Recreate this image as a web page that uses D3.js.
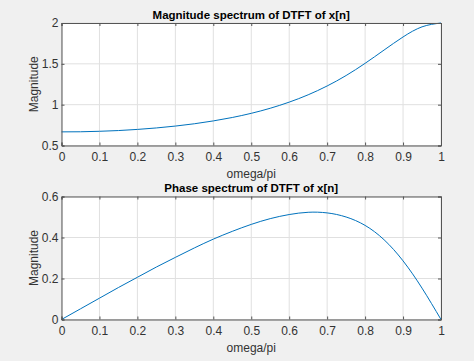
<!DOCTYPE html>
<html>
<head>
<meta charset="utf-8">
<script src="https://cdn.jsdelivr.net/npm/d3@7"></script>
<style>
  body { margin: 0; background: #f0f0f0; }
  svg { display: block; font-family: "Liberation Sans", Arial, sans-serif; }
</style>
</head>
<body>
<script>
// omega/pi sample points
const omega = [0, 0.05, 0.1, 0.15, 0.2, 0.25, 0.3, 0.35, 0.4, 0.45, 0.5,
  0.55, 0.6, 0.65, 0.7, 0.75, 0.8, 0.85, 0.9, 0.95, 1]
const magnitude = [0.667, 0.668, 0.674, 0.683, 0.697, 0.715, 0.738, 0.766, 0.801, 0.843, 0.894,
  0.956, 1.031, 1.121, 1.229, 1.357, 1.506, 1.669, 1.829, 1.953, 2.0]
const phase = [0, 0.052, 0.104, 0.156, 0.206, 0.256, 0.303, 0.349, 0.392, 0.430, 0.464,
  0.492, 0.512, 0.523, 0.520, 0.500, 0.459, 0.389, 0.286, 0.153, 0]

const xTicks = [0, 0.1, 0.2, 0.3, 0.4, 0.5, 0.6, 0.7, 0.8, 0.9, 1]
const magTicks = [0.5, 1, 1.5, 2]
const phaseTicks = [0, 0.2, 0.4, 0.6]

const W = 474, H = 361
const LINE = '#0072BD'
const AXIS = '#555555'
const GRID = '#e0e0e0'
const FONT = '"Liberation Sans", Arial, sans-serif'

const svg = d3.select('body').append('svg')
  .attr('width', W).attr('height', H)

svg.append('rect').attr('width', W).attr('height', H).attr('fill', '#f0f0f0')

function drawPanel(cfg) {
  const x = d3.scaleLinear().domain([0, 1]).range([cfg.left, cfg.right])
  const y = d3.scaleLinear().domain(cfg.yDomain).range([cfg.bottom, cfg.top])
  const g = svg.append('g')

  g.append('rect')
    .attr('x', cfg.left).attr('y', cfg.top)
    .attr('width', cfg.right - cfg.left).attr('height', cfg.bottom - cfg.top)
    .attr('fill', '#fff')

  // grid
  g.selectAll('.gx').data(xTicks).enter().append('line')
    .attr('x1', d => x(d)).attr('x2', d => x(d))
    .attr('y1', cfg.top).attr('y2', cfg.bottom)
    .attr('stroke', GRID).attr('stroke-width', 1)
  g.selectAll('.gy').data(cfg.yTicks).enter().append('line')
    .attr('y1', d => y(d)).attr('y2', d => y(d))
    .attr('x1', cfg.left).attr('x2', cfg.right)
    .attr('stroke', GRID).attr('stroke-width', 1)

  // curve
  const line = d3.line()
    .x((d, i) => x(omega[i]))
    .y(d => y(d))
    .curve(d3.curveNatural)
  g.append('path').datum(cfg.values)
    .attr('d', line)
    .attr('fill', 'none')
    .attr('stroke', LINE)
    .attr('stroke-width', 1)

  // axes (ticks inward, box)
  const xAxisB = d3.axisBottom(x).tickValues(xTicks).tickSize(-3).tickPadding(7)
    .tickFormat(d3.format('~g'))
  const xAxisT = d3.axisTop(x).tickValues(xTicks).tickSize(-3).tickFormat('')
  const yAxisL = d3.axisLeft(y).tickValues(cfg.yTicks).tickSize(-3).tickPadding(3)
    .tickFormat(d3.format('~g'))
  const yAxisR = d3.axisRight(y).tickValues(cfg.yTicks).tickSize(-3).tickFormat('')

  const axes = [
    [xAxisB, `translate(0,${cfg.bottom})`],
    [xAxisT, `translate(0,${cfg.top})`],
    [yAxisL, `translate(${cfg.left},0)`],
    [yAxisR, `translate(${cfg.right},0)`]
  ]
  axes.forEach(([ax, tr]) => {
    const a = g.append('g').attr('transform', tr).call(ax)
    a.select('.domain').attr('stroke', AXIS).attr('stroke-width', 1)
    a.selectAll('.tick line').attr('stroke', AXIS)
    a.selectAll('text').attr('fill', '#333').attr('font-size', 12)
      .attr('font-family', FONT)
  })

  g.append('text')
    .attr('x', (cfg.left + cfg.right) / 2).attr('y', cfg.top - 4.5)
    .attr('text-anchor', 'middle').attr('font-family', FONT)
    .attr('font-size', 11.5).attr('font-weight', 'bold').attr('fill', '#000')
    .text(cfg.title)

  g.append('text')
    .attr('x', (cfg.left + cfg.right) / 2).attr('y', cfg.bottom + 32)
    .attr('text-anchor', 'middle').attr('font-family', FONT)
    .attr('font-size', 12).attr('fill', '#333')
    .text('omega/pi')

  g.append('text')
    .attr('transform', `translate(${cfg.left - 24},${(cfg.top + cfg.bottom) / 2}) rotate(-90)`)
    .attr('text-anchor', 'middle').attr('font-family', FONT)
    .attr('font-size', 12).attr('fill', '#333')
    .text('Magnitude')
}

drawPanel({
  left: 61.5, right: 441, top: 23, bottom: 145.5,
  yDomain: [0.5, 2], yTicks: magTicks, values: magnitude,
  title: 'Magnitude spectrum of DTFT of x[n]'
})

drawPanel({
  left: 61.5, right: 441, top: 196.5, bottom: 319.5,
  yDomain: [0, 0.6], yTicks: phaseTicks, values: phase,
  title: 'Phase spectrum of DTFT of x[n]'
})
</script>
</body>
</html>
